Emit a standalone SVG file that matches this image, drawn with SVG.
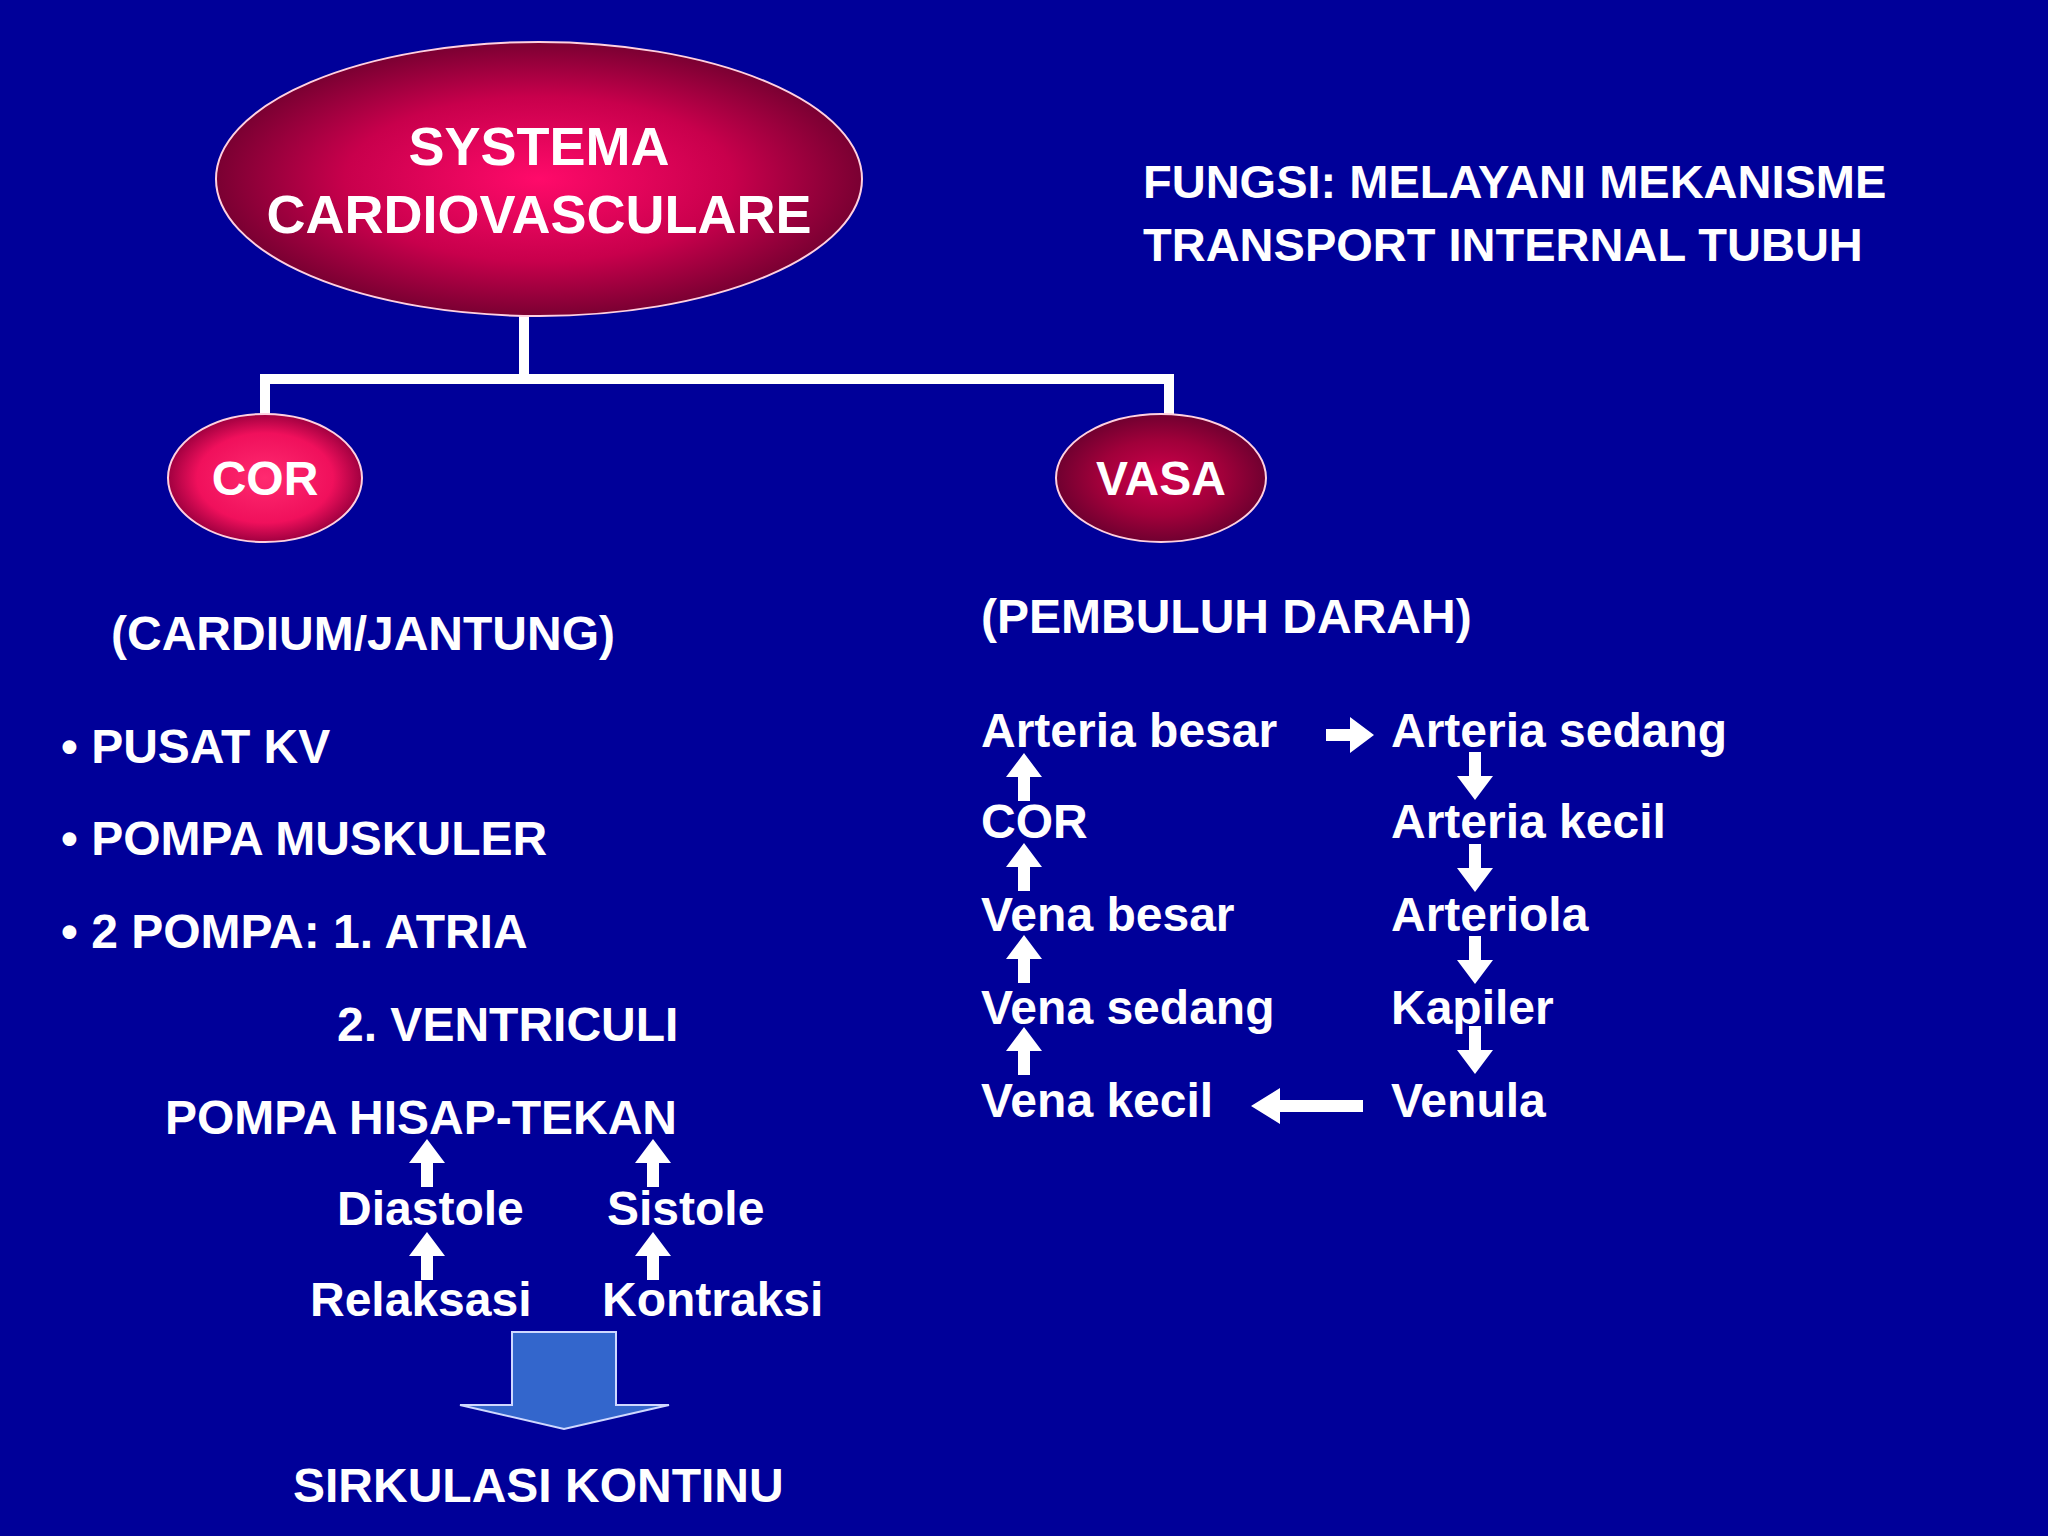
<svg xmlns="http://www.w3.org/2000/svg" width="2048" height="1536" viewBox="0 0 2048 1536">
<defs>
<radialGradient id="g1" cx="50%" cy="50%" r="50%"><stop offset="0" stop-color="#ff0a6a"/><stop offset="0.6" stop-color="#c8004c"/><stop offset="1" stop-color="#7a0032"/></radialGradient>
<radialGradient id="g2" cx="50%" cy="50%" r="50%"><stop offset="0" stop-color="#ff2a70"/><stop offset="0.7" stop-color="#f0105c"/><stop offset="1" stop-color="#a00040"/></radialGradient>
<radialGradient id="g3" cx="50%" cy="50%" r="50%"><stop offset="0" stop-color="#d0004c"/><stop offset="0.6" stop-color="#a0003a"/><stop offset="1" stop-color="#700030"/></radialGradient>
<path id="up" d="M0,-24 L18,0 L6,0 L6,24 L-6,24 L-6,0 L-18,0 Z" fill="#fff"/>
</defs>
<style>
text{font-family:"Liberation Sans",Arial,sans-serif;font-weight:bold;fill:#fff}
.t{font-size:48px}
.c{stroke:#fff;stroke-width:10;fill:none}
</style>
<rect width="2048" height="1536" fill="#000099"/>
<g id="connectors">
<path class="c" d="M524,316 V379 M265,415 V379 H1169 V415"/>
</g>
<g id="main"><ellipse cx="539" cy="179" rx="323" ry="137" fill="url(#g1)" stroke="#ffd0e0" stroke-width="2"/>
<text x="539" y="165" font-size="54" text-anchor="middle">SYSTEMA</text>
<text x="539" y="233" font-size="54" text-anchor="middle">CARDIOVASCULARE</text></g>
<g id="cor"><ellipse cx="265" cy="478" rx="97" ry="64" fill="url(#g2)" stroke="#ffd0e0" stroke-width="2"/>
<text x="265" y="495" class="t" text-anchor="middle">COR</text></g>
<g id="vasa"><ellipse cx="1161" cy="478" rx="105" ry="64" fill="url(#g3)" stroke="#ffd0e0" stroke-width="2"/>
<text x="1161" y="495" class="t" text-anchor="middle">VASA</text></g>
<g id="fungsi"><text x="1143" y="198" font-size="47">FUNGSI: MELAYANI MEKANISME</text>
<text x="1143" y="261" font-size="47">TRANSPORT INTERNAL TUBUH</text></g>
<g id="left">
<text x="111" y="650" class="t">(CARDIUM/JANTUNG)</text>
<text x="61" y="763" class="t">• PUSAT KV</text>
<text x="61" y="855" class="t">• POMPA MUSKULER</text>
<text x="61" y="948" class="t">• 2 POMPA: 1. ATRIA</text>
<text x="337" y="1041" class="t">2. VENTRICULI</text>
<text x="165" y="1134" class="t">POMPA HISAP-TEKAN</text>
<text x="337" y="1225" class="t">Diastole</text>
<text x="607" y="1225" class="t">Sistole</text>
<text x="310" y="1316" class="t">Relaksasi</text>
<text x="602" y="1316" class="t">Kontraksi</text>
<use href="#up" x="427" y="1163"/><use href="#up" x="653" y="1163"/>
<use href="#up" x="427" y="1256"/><use href="#up" x="653" y="1256"/>
<path d="M512,1332 H616 V1405 H669 L564,1429 L460,1405 H512 Z" fill="#3366cc" stroke="#cfd8ff" stroke-width="2"/>
<text x="293" y="1502" class="t">SIRKULASI KONTINU</text>
</g>
<g id="vessels">
<text x="981" y="633" class="t">(PEMBULUH DARAH)</text>
<text x="981" y="747" class="t">Arteria besar</text>
<text x="981" y="838" class="t">COR</text>
<text x="981" y="931" class="t">Vena besar</text>
<text x="981" y="1024" class="t">Vena sedang</text>
<text x="981" y="1117" class="t">Vena kecil</text>
<text x="1391" y="747" class="t">Arteria sedang</text>
<text x="1391" y="838" class="t">Arteria kecil</text>
<text x="1391" y="931" class="t">Arteriola</text>
<text x="1391" y="1024" class="t">Kapiler</text>
<text x="1391" y="1117" class="t">Venula</text>
<use href="#up" x="1024" y="777"/><use href="#up" x="1024" y="867"/><use href="#up" x="1024" y="959"/><use href="#up" x="1024" y="1051"/>
<use href="#up" transform="translate(1475,776) rotate(180)"/><use href="#up" transform="translate(1475,868) rotate(180)"/><use href="#up" transform="translate(1475,960) rotate(180)"/><use href="#up" transform="translate(1475,1050) rotate(180)"/>
<use href="#up" transform="translate(1350,735) rotate(90)"/>
<path d="M1251,1106 L1280,1088 V1100 H1363 V1112 H1280 V1124 Z" fill="#fff"/>
</g>
</svg>
